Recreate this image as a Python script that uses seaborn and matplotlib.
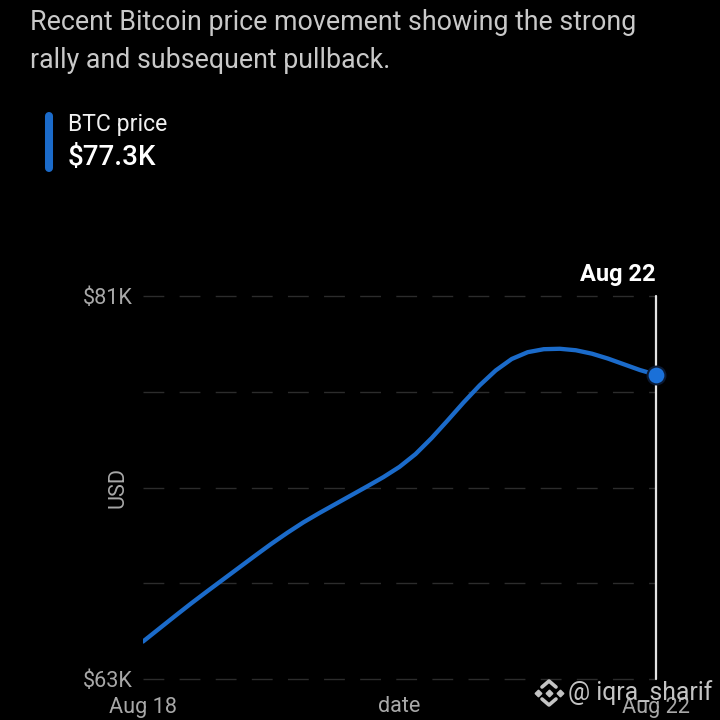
import matplotlib
matplotlib.use("Agg")
import matplotlib.pyplot as plt
from matplotlib.lines import Line2D
import pandas as pd
import seaborn as sns

# BTC price in thousands of USD, every 3 hours
start_date = "2025-08-18"
step = "3h"
btc_price = [
    64.76, 65.36, 65.96, 66.55, 67.12, 67.68, 68.24, 68.80, 69.35, 69.87, 70.36,
    70.80, 71.22, 71.64, 72.06, 72.49, 72.97, 73.57, 74.32, 75.15, 76.00, 76.80,
    77.50, 78.04, 78.36, 78.50, 78.52, 78.45, 78.29, 78.06, 77.79, 77.52, 77.30,
]
y_ticks = [63, 67.5, 72, 76.5, 81]
y_labels = ["$63K", "", "", "", "$81K"]

title_lines = [
    "Recent Bitcoin price movement showing the strong",
    "rally and subsequent pullback.",
]
legend_name = "BTC price"
legend_value = "$77.3K"
watermark = "@ iqra_sharif"

BLUE = "#1b6bca"
DOT_BLUE = "#1a70d8"
W, H = 720, 720

sns.set_theme(style="dark", rc={"figure.facecolor": "black", "axes.facecolor": "black"})
plt.rcParams["font.family"] = ["Roboto", "DejaVu Sans"]


def fx(px):
    return px / W


def fy(px):
    return 1 - px / H


df = pd.DataFrame(
    {
        "date": pd.date_range(start_date, periods=len(btc_price), freq=step),
        "price": btc_price,
    }
)
first, last = df["date"].iloc[0], df["date"].iloc[-1]

fig = plt.figure(figsize=(7.2, 7.2), dpi=100)
ax = fig.add_axes([fx(143), fy(679), fx(656) - fx(143), fy(296) - fy(679)])

sns.lineplot(
    data=df, x="date", y="price", color=BLUE, linewidth=3.1, ax=ax, zorder=3,
    solid_joinstyle="round",
)
ax.set_xlim(first, last)
ax.set_ylim(63, 81)

for v in y_ticks:
    ax.axhline(v, color="#2c2c2c", linewidth=1, dashes=(15, 11), zorder=1, clip_on=False)
ax.axvline(last, color="#e4e4e4", linewidth=1.6, zorder=2, clip_on=False)
ax.scatter(
    [last], [btc_price[-1]], s=165, color=DOT_BLUE, edgecolor="#0b1a33", linewidth=1.5,
    zorder=4, clip_on=False,
)

for side in ax.spines.values():
    side.set_visible(False)
ax.grid(False)
ax.set_yticks(y_ticks, y_labels, color="#a8a8a8", fontsize=15.6)
ax.set_xticks([first, last], ["Aug 18", "Aug 22"], color="#a8a8a8", fontsize=15.6)
ax.tick_params(axis="y", length=0, pad=7.5)
ax.tick_params(axis="x", length=0, pad=13)
ax.set_xlabel("")
ax.set_ylabel("")

fig.text(fx(118), fy(487), "USD", rotation=90, color="#a8a8a8", fontsize=15.6, ha="center", va="center")
fig.text(fx(399), fy(706), "date", color="#a8a8a8", fontsize=15.6, ha="center", va="center")
fig.text(fx(656), fy(275), "Aug 22", color="white", fontsize=17, fontweight="bold", ha="right", va="center")

# title and legend block
fig.text(fx(30), fy(22), title_lines[0], color="#c9c9c9", fontsize=19.3, va="center")
fig.text(fx(30), fy(60), title_lines[1], color="#c9c9c9", fontsize=19.3, va="center")
fig.add_artist(
    Line2D([fx(49), fx(49)], [fy(116), fy(168)], color=BLUE, linewidth=5.8, solid_capstyle="round")
)
fig.text(fx(68), fy(124), legend_name, color="#f0f0f0", fontsize=16.6, va="center")
fig.text(fx(68), fy(158), legend_value, color="white", fontsize=20, fontweight="medium", va="center")

# watermark, logo is a few small diamonds and two chevrons
mark_color = "#c4c4c4"
fig.text(fx(568), fy(693), watermark, color=mark_color, fontsize=17.8, va="center", zorder=5)
for dx in (-11, 0, 11):
    fig.add_artist(
        Line2D([fx(549 + dx)], [fy(693)], marker="D", markersize=3.4, color=mark_color, linestyle="none")
    )
for sign in (-1, 1):
    fig.add_artist(
        Line2D(
            [fx(542), fx(549), fx(556)],
            [fy(693 + sign * 6), fy(693 + sign * 12), fy(693 + sign * 6)],
            color=mark_color,
            linewidth=2.6,
        )
    )

fig.savefig("out.png", dpi=100, facecolor="black")
